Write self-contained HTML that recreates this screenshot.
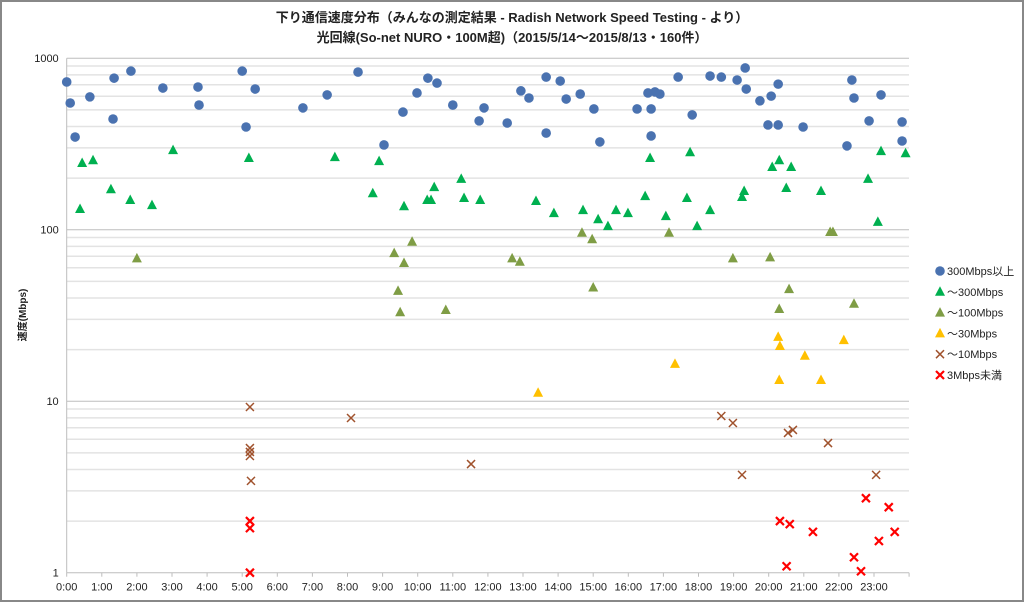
<!DOCTYPE html>
<html><head><meta charset="utf-8"><style>
body{margin:0;background:#fff;}
#wrap{position:relative;width:1024px;height:602px;overflow:hidden;}
svg text{font-family:"Liberation Sans","Noto Sans CJK JP",sans-serif;}
</style></head><body>
<div id="wrap">
<svg id="chart" width="1024" height="602" xmlns="http://www.w3.org/2000/svg">
<rect x="1" y="1" width="1022" height="600" fill="#fff" stroke="#888" stroke-width="2"/>
<text x="512" y="22" text-anchor="middle" font-size="13" font-weight="bold" fill="#222">下り通信速度分布（みんなの測定結果 - Radish Network Speed Testing - より）</text>
<text x="512" y="42" text-anchor="middle" font-size="13" font-weight="bold" fill="#222">光回線(So-net NURO・100M超)（2015/5/14～2015/8/13・160件）</text>
<text transform="translate(26,315) rotate(-90)" text-anchor="middle" font-size="10" font-weight="bold" fill="#222">速度(Mbps)</text>
<g id="grid"></g><g id="axes"></g><g id="marks"></g><g id="legend"></g>
</svg></div>
<script>
const xTickLabels=["0:00","1:00","2:00","3:00","4:00","5:00","6:00","7:00","8:00","9:00","10:00","11:00","12:00","13:00","14:00","15:00","16:00","17:00","18:00","19:00","20:00","21:00","22:00","23:00"];
const yTickValues=[1,10,100,1000];
const seriesNames=["300Mbps以上","～300Mbps","～100Mbps","～30Mbps","～10Mbps","3Mbps未満"];
const s1Hours=[0.0,0.1,0.24,0.66,1.32,1.35,1.83,2.74,3.74,3.77,5.0,5.11,5.37,6.73,7.42,8.3,9.04,9.58,9.98,10.29,10.55,11.0,11.75,11.89,12.55,12.94,13.17,13.66,13.66,14.06,14.23,14.63,15.02,15.19,16.25,16.56,16.65,16.65,16.76,16.9,17.42,17.82,18.33,18.65,19.1,19.33,19.36,19.75,19.98,20.07,20.27,20.27,20.98,22.23,22.37,22.43,22.86,23.2,23.8,23.8];
const s1Values=[727,548,347,595,442,765,841,670,679,533,841,397,661,513,611,830,312,485,627,765,716,533,431,513,419,645,586,776,366,736,578,618,506,325,506,627,506,352,636,618,776,467,787,776,746,877,661,564,408,601,408,706,397,308,746,586,431,611,425,329];
const s2Hours=[0.38,0.44,0.75,1.26,1.81,2.43,3.03,5.19,7.64,8.72,8.9,9.61,10.27,10.38,10.47,11.24,11.32,11.78,13.37,13.88,14.71,15.14,15.42,15.65,15.99,16.48,16.62,17.07,17.76,17.67,17.96,18.33,19.24,19.3,20.1,20.3,20.5,20.64,21.49,22.83,23.2,23.11,23.9];
const s2Values=[132,245,254,172,149,139,291,262,265,163,251,137,149,149,177,198,153,149,147,125,130,115,105,130,125,157,262,120,283,153,105,130,155,168,232,254,175,232,168,198,287,111,279];
const s3Hours=[2.0,9.33,9.44,9.5,9.61,9.84,10.8,12.69,12.91,14.68,14.97,15.0,17.16,18.98,20.04,20.3,20.58,21.75,21.83,22.43];
const s3Values=[68,73,44,33,64,85,34,68,65,96,88,46,96,68,69,34.5,45,97,97,37];
const s4Hours=[13.43,17.33,20.27,20.32,20.3,21.03,21.49,22.14];
const s4Values=[11.2,16.5,23.7,21,13.3,18.4,13.3,22.7];
const s5Hours=[5.22,5.22,5.22,5.22,5.25,8.1,11.52,18.65,18.98,19.24,20.55,20.69,21.69,23.06];
const s5Values=[9.25,5.33,5.06,4.79,3.43,7.98,4.3,8.2,7.46,3.72,6.53,6.8,5.7,3.72];
const s6Hours=[5.22,5.22,5.22,20.32,20.6,20.51,21.26,22.43,22.63,22.77,23.14,23.42,23.59];
const s6Values=[2.0,1.82,1.0,2.0,1.92,1.09,1.73,1.23,1.02,2.72,1.53,2.41,1.73];

const NS="http://www.w3.org/2000/svg";
const X0=66.7,XH=35.1,Y1=572.7,YD=171.5,XR=909;
const xs=h=>X0+h*XH;
const ys=v=>Y1-Math.log10(v)*YD;
function mk(tag,attrs,parent){const e=document.createElementNS(NS,tag);for(const k in attrs)e.setAttribute(k,attrs[k]);parent.appendChild(e);return e;}
const grid=document.getElementById('grid'),axes=document.getElementById('axes'),marks=document.getElementById('marks'),legend=document.getElementById('legend');
for(let d=0;d<3;d++){for(let m=2;m<=9;m++){const y=ys(m*Math.pow(10,d));
const l=mk('line',{x1:X0,x2:XR,y1:y,y2:y,stroke:'#e3e3e3','stroke-width':1.5},grid);

}}
yTickValues.forEach(v=>{const y=ys(v);
const l=mk('line',{x1:X0,x2:XR,y1:y,y2:y,stroke:'#bdbdbd','stroke-width':1},grid);


const t=mk('text',{x:X0-8,y:y+4,'text-anchor':'end','font-size':11,fill:'#222'},axes);t.textContent=v;

});
const ya=mk('line',{x1:X0,x2:X0,y1:ys(1000),y2:Y1,stroke:'#bdbdbd'},axes);


xTickLabels.forEach((s,i)=>{const x=xs(i);
const tk=mk('line',{x1:x,x2:x,y1:Y1,y2:Y1+4,stroke:'#bdbdbd'},axes);


const t=mk('text',{x:x,y:Y1+18,'text-anchor':'middle','font-size':11,fill:'#222'},axes);t.textContent=s;

});
const lt=mk('line',{x1:xs(24),x2:xs(24),y1:Y1,y2:Y1+4,stroke:'#bdbdbd'},axes);


function marker(type,color,x,y,parent){
 if(type==='c')return mk('circle',{cx:x,cy:y,r:4.8,fill:color},parent);
 if(type==='t')return mk('polygon',{points:`${x},${y-5.5} ${x+5},${y+4} ${x-5},${y+4}`,fill:color},parent);
 const g=mk('path',{d:`M${x-4},${y-4}L${x+4},${y+4}M${x-4},${y+4}L${x+4},${y-4}`,stroke:color,'stroke-width':type==='X'?2.2:1.5,fill:'none'},parent);return g;}
const series=[[s1Hours,s1Values,'c','#4a72b0'],[s2Hours,s2Values,'t','#00b050'],[s3Hours,s3Values,'t','#7f9d45'],[s4Hours,s4Values,'t','#ffc000'],[s5Hours,s5Values,'x','#a0522d'],[s6Hours,s6Values,'X','#ff0000']];
series.forEach((s,si)=>{const [hs,vs,tp,col]=s;
 hs.forEach((h,i)=>{const e=marker(tp,col,xs(h),ys(vs[i]),marks);
 
 });
 const ly=271+si*20.8;
 const lm=marker(tp,col,940,ly,legend);
 
 
 const t=mk('text',{x:947,y:ly+4,'font-size':11,fill:'#222'},legend);t.textContent=seriesNames[si];
 
 });
</script></body></html>
